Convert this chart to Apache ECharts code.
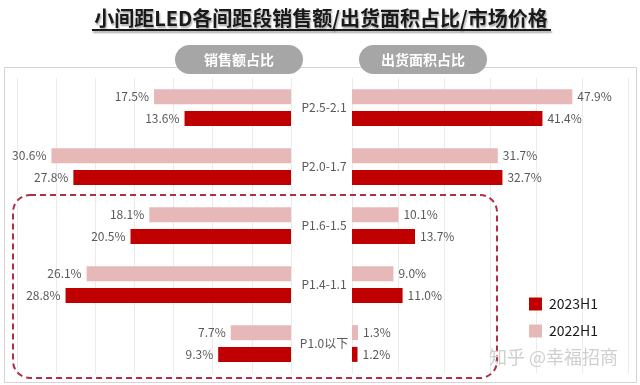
<!DOCTYPE html>
<html>
<head>
<meta charset="utf-8">
<script src="https://cdn.jsdelivr.net/npm/echarts@6/dist/echarts.min.js"></script>
<style>html,body{margin:0;padding:0;background:#fff}#c{width:640px;height:385px}</style>
</head>
<body>
<div id="c"></div>
<script>
var categories = ['P2.5-2.1', 'P2.0-1.7', 'P1.6-1.5', 'P1.4-1.1', 'P1.0以下'];
var sales2022 = [17.5, 30.6, 18.1, 26.1, 7.7];
var sales2023 = [13.6, 27.8, 20.5, 28.8, 9.3];
var area2022 = [47.9, 31.7, 10.1, 9.0, 1.3];
var area2023 = [41.4, 32.7, 13.7, 11.0, 1.2];
var leftTicks = {min: 0, max: 35, interval: 5};
var rightTicks = {min: 0, max: 60, interval: 10};
var seriesNames = ['2023H1', '2022H1'];
var titleText = '小间距LED各间距段销售额/出货面积占比/市场价格';
var panelTitles = ['销售额占比', '出货面积占比'];
var watermark = '知乎 @幸福招商';

var FONT = '"Noto Sans CJK SC", "Noto Sans", sans-serif';
var RED = '#c00000', PINK = '#e6b9b8', LBL = '#595959';

var chart = echarts.init(document.getElementById('c'), null, {renderer: 'canvas'});

function bar(name, data, xi, color, pos) {
  return {
    name: name, type: 'bar', xAxisIndex: xi, yAxisIndex: xi, data: data,
    barWidth: 15, barGap: '45%',
    itemStyle: {color: color},
    label: {show: true, position: pos, distance: 5, color: LBL, fontSize: 12, fontFamily: FONT,
      formatter: function (p) { return p.value.toFixed(1) + '%'; }}
  };
}

var option = {
  animation: false,
  backgroundColor: '#fff',
  legend: {
    orient: 'vertical', left: 524, top: 292, itemWidth: 13, itemHeight: 13, itemGap: 13,
    icon: 'rect', data: seriesNames,
    textStyle: {fontSize: 14, color: '#1a1a1a', fontFamily: FONT, padding: [0, 0, 0, 2]}
  },
  grid: [
    {left: 17, width: 274, top: 78, height: 295},
    {left: 352, width: 276, top: 78, height: 295}
  ],
  xAxis: [
    {type: 'value', gridIndex: 0, inverse: true, min: leftTicks.min, max: leftTicks.max, interval: leftTicks.interval,
      axisLabel: {show: false}, axisLine: {show: false}, axisTick: {show: false},
      splitLine: {lineStyle: {color: '#ebebeb'}}},
    {type: 'value', gridIndex: 1, min: rightTicks.min, max: rightTicks.max, interval: rightTicks.interval,
      axisLabel: {show: false}, axisLine: {show: false}, axisTick: {show: false},
      splitLine: {lineStyle: {color: '#ebebeb'}}}
  ],
  yAxis: [
    {type: 'category', gridIndex: 0, inverse: true, data: categories, position: 'right',
      axisLabel: {show: false}, axisLine: {show: false}, axisTick: {show: false}},
    {type: 'category', gridIndex: 1, inverse: true, data: categories, position: 'left',
      axisLine: {show: false}, axisTick: {show: false},
      axisLabel: {margin: 28, align: 'center', color: LBL, fontSize: 12, fontFamily: FONT}}
  ],
  series: [
    bar(seriesNames[1], sales2022, 0, PINK, 'left'),
    bar(seriesNames[0], sales2023, 0, RED, 'left'),
    bar(seriesNames[1], area2022, 1, PINK, 'right'),
    bar(seriesNames[0], area2023, 1, RED, 'right')
  ],
  graphic: [
    {type: 'rect', z: -1, shape: {x: 4.5, y: 67.5, width: 632, height: 315}, style: {fill: 'none', stroke: '#d4d4d4', lineWidth: 1}},
    {type: 'rect', z: 10, shape: {x: 175, y: 45, width: 128, height: 29, r: 14.5}, style: {fill: '#a6a6a6'}},
    {type: 'text', z: 11, style: {x: 239, y: 59.5, text: panelTitles[0], align: 'center', verticalAlign: 'middle', fill: '#fff', fontSize: 14, fontWeight: 'bold', fontFamily: FONT}},
    {type: 'rect', z: 10, shape: {x: 359, y: 45, width: 128, height: 29, r: 14.5}, style: {fill: '#a6a6a6'}},
    {type: 'text', z: 11, style: {x: 423, y: 59.5, text: panelTitles[1], align: 'center', verticalAlign: 'middle', fill: '#fff', fontSize: 14, fontWeight: 'bold', fontFamily: FONT}},
    {type: 'text', z: 11, style: {x: 321, y: 18, text: titleText, align: 'center', verticalAlign: 'middle', fill: '#1a1a1a', fontSize: 20, fontWeight: 'bold', fontFamily: FONT,
      textShadowColor: 'rgba(0,0,0,0.35)', textShadowOffsetX: 1, textShadowOffsetY: 2, textShadowBlur: 2}},
    {type: 'line', z: 11, shape: {x1: 92, y1: 30, x2: 551, y2: 30}, style: {stroke: '#1a1a1a', lineWidth: 2, shadowColor: 'rgba(0,0,0,0.35)', shadowOffsetX: 1, shadowOffsetY: 2, shadowBlur: 2}},
    {type: 'rect', z: 12, shape: {x: 13, y: 195, width: 484, height: 183, r: 17}, style: {fill: 'none', stroke: '#b02f45', lineWidth: 2, lineDash: [6, 4]}},
    {type: 'text', z: 12, style: {x: 489, y: 357, text: watermark, verticalAlign: 'middle', fill: '#cfcfcf', fontSize: 18, fontFamily: FONT}}
  ]
};
chart.setOption(option);
</script>
</body>
</html>
